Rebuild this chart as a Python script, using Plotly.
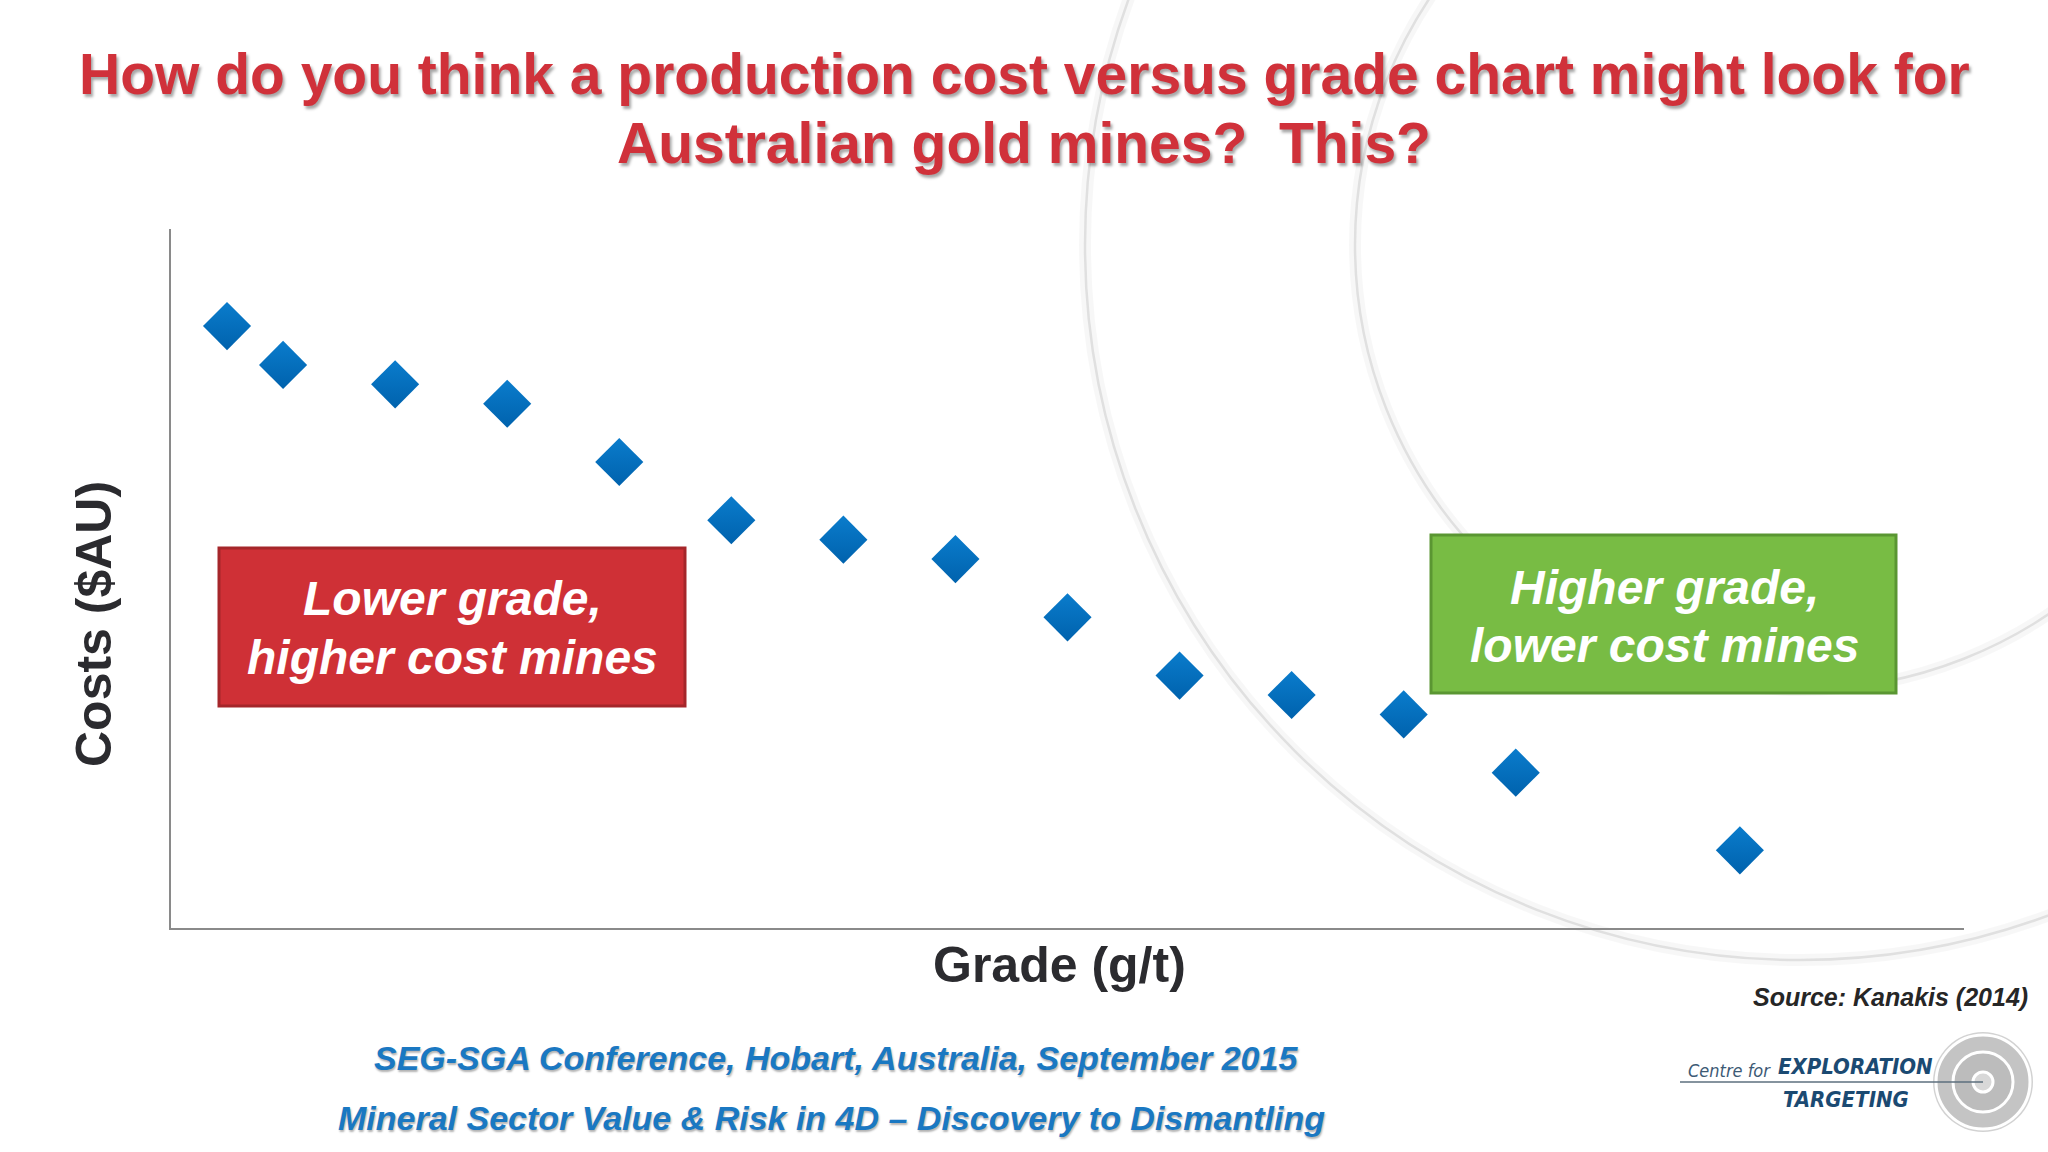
import plotly.graph_objects as go

# ---------------- data ----------------
grade = [0.5, 1, 2, 3, 4, 5, 6, 7, 8, 9, 10, 11, 12, 14]
cost = [31, 29, 28, 27, 24, 21, 20, 19, 16, 13, 12, 11, 8, 4]

title_lines = ["How do you think a production cost versus grade chart might look for",
               "Australian gold mines?\u00a0 This?"]
x_label = "Grade (g/t)"
y_label = "Costs ($AU)"
red_box_lines = ["Lower grade,", "higher cost mines"]
green_box_lines = ["Higher grade,", "lower cost mines"]
footer_lines = ["SEG-SGA Conference, Hobart, Australia, September 2015",
                "Mineral Sector Value & Risk in 4D \u2013 Discovery to Dismantling"]
source_text = "Source: Kanakis (2014)"

# ---------------- layout helpers ----------------
W, H = 2048, 1152


def px(x):
    return x / W


def py(y):
    return 1 - y / H


FONT = "Arial, Liberation Sans, sans-serif"
NARROW = "Liberation Sans Narrow, DejaVu Sans Condensed, Arial, sans-serif"

fig = go.Figure()

fig.add_trace(go.Scatter(
    x=grade, y=cost, mode="markers",
    marker=dict(symbol="diamond", size=37, color="#0a7ccc",
                gradient=dict(type="vertical", color="#0062ad"),
                line=dict(width=0)),
    hoverinfo="x+y", showlegend=False,
))

shapes = []

# decorative background arcs (slide design)
cx, cy = 1800, 245
for r in (715, 445):
    shapes.append(dict(type="circle", xref="paper", yref="paper",
                       x0=px(cx - r), x1=px(cx + r), y0=py(cy + r), y1=py(cy - r),
                       line=dict(color="rgba(0,0,0,0.03)", width=12), layer="below"))
    shapes.append(dict(type="circle", xref="paper", yref="paper",
                       x0=px(cx - r), x1=px(cx + r), y0=py(cy + r), y1=py(cy - r),
                       line=dict(color="#e0e0e0", width=2.5), layer="below"))

# callout boxes
shapes.append(dict(type="rect", xref="paper", yref="paper",
                   x0=px(219), x1=px(685), y0=py(706), y1=py(548),
                   fillcolor="#cf3036", line=dict(color="#a5262a", width=3), layer="above"))
shapes.append(dict(type="rect", xref="paper", yref="paper",
                   x0=px(1431), x1=px(1896), y0=py(693), y1=py(535),
                   fillcolor="#78bc44", line=dict(color="#5a9632", width=3), layer="above"))

# logo target
lx, ly = 1983, 1082
for r, fill, lc in ((50, "#d2d2d2", "rgba(0,0,0,0)"), (47, "#c4c4c4", "white"),
                    (30, "#bcbcbc", "white"), (10, "#d8d8d8", "white")):
    shapes.append(dict(type="circle", xref="paper", yref="paper",
                       x0=px(lx - r), x1=px(lx + r), y0=py(ly + r), y1=py(ly - r),
                       fillcolor=fill, line=dict(color=lc, width=3), layer="above"))
shapes.append(dict(type="line", xref="paper", yref="paper",
                   x0=px(1680), x1=px(lx), y0=py(ly), y1=py(ly),
                   line=dict(color="#5d6f7e", width=1.5), layer="above"))

annotations = []


def ann(text, x, y, size, color, weight="bold", style="normal", xanchor="center",
        family=FONT, shadow="none", textangle=0):
    annotations.append(dict(
        text=text, xref="paper", yref="paper", x=px(x), y=py(y),
        xanchor=xanchor, yanchor="middle", showarrow=False, textangle=textangle,
        font=dict(family=family, size=size, color=color, weight=weight,
                  style=style, shadow=shadow)))


ann(title_lines[0], 1024, 74, 57, "#d0313a", shadow="2px 3px 3px rgba(0,0,0,0.35)")
ann(title_lines[1], 1024, 143, 57, "#d0313a", shadow="2px 3px 3px rgba(0,0,0,0.35)")

ann(x_label, 1059, 965, 50, "#2b2b2f")
ann(y_label, 94, 624, 50, "#2b2b2f", textangle=-90)

ann(red_box_lines[0], 452, 598, 48, "white", style="italic")
ann(red_box_lines[1], 452, 657, 48, "white", style="italic")
ann(green_box_lines[0], 1664, 587, 48, "white", style="italic")
ann(green_box_lines[1], 1664, 645, 48, "white", style="italic")

ann(footer_lines[0], 836, 1058, 34, "#1a78c2", style="italic",
    shadow="1px 2px 2px rgba(0,0,0,0.3)")
ann(footer_lines[1], 831, 1118, 34, "#1a78c2", style="italic",
    shadow="1px 2px 2px rgba(0,0,0,0.3)")

ann(source_text, 2030, 997, 25, "#262626", style="italic", xanchor="right")

ann("Centre for", 1773, 1070, 18, "#3d5a75", weight="normal", style="italic",
    xanchor="right", family=NARROW)
ann("EXPLORATION", 1776, 1066, 22, "#1b4a72", style="italic", xanchor="left", family=NARROW)
ann("TARGETING", 1781, 1099, 22, "#1b4a72", style="italic", xanchor="left", family=NARROW)

fig.update_layout(
    width=W, height=H,
    margin=dict(l=0, r=0, t=0, b=0),
    paper_bgcolor="white", plot_bgcolor="rgba(0,0,0,0)",
    xaxis=dict(domain=[px(171), px(1964)], range=[0, 16], showgrid=False, zeroline=False,
               showticklabels=False, ticks="", showline=True, linecolor="#8a8a8a",
               linewidth=2, fixedrange=True),
    yaxis=dict(domain=[py(928), py(229)], range=[0, 36], showgrid=False, zeroline=False,
               showticklabels=False, ticks="", showline=True, linecolor="#8a8a8a",
               linewidth=2, fixedrange=True),
    shapes=shapes, annotations=annotations,
    showlegend=False,
)

fig.write_html("out.html", config={"displayModeBar": False})
